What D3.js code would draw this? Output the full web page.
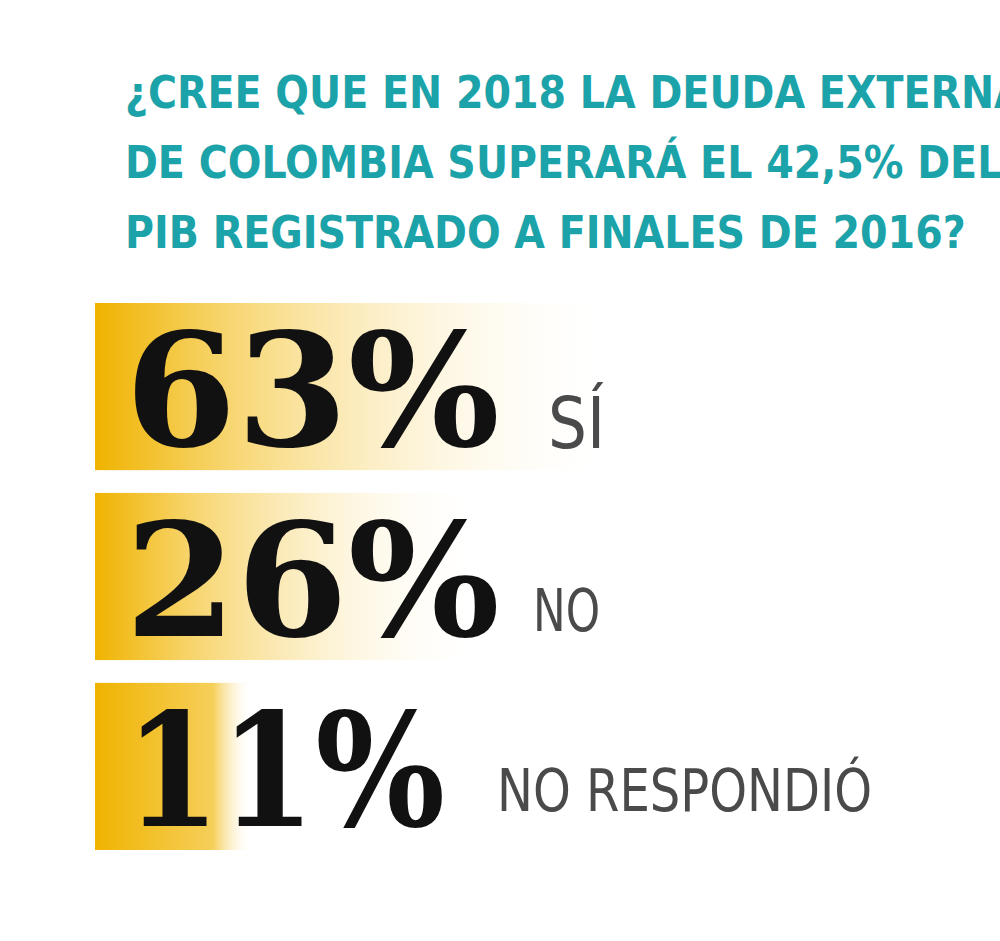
<!DOCTYPE html>
<html><head><meta charset="utf-8">
<script src="https://cdn.jsdelivr.net/npm/d3@7"></script>
<style>body{margin:0;background:#fff}</style>
</head><body>
<div id="root"></div>
<script>
// data
const titleLines = ["¿CREE QUE EN 2018 LA DEUDA EXTERNA", "DE COLOMBIA SUPERARÁ EL 42,5% DEL", "PIB REGISTRADO A FINALES DE 2016?"];
const answers = ["SÍ", "NO", "NO RESPONDIÓ"];
const values = [63, 26, 11];

const width = 1000, height = 941;
const svg = d3.select("#root").append("svg")
  .attr("width", width).attr("height", height)
  .attr("viewBox", [0, 0, width, height]);

// bar length scale (the bars fade out, so only roughly proportional)
const x = d3.scaleLinear().domain([0, 63]).range([60, 505]);
const y = d3.scaleBand().domain(answers).range([303, 850]).paddingInner(0.12);

const defs = svg.append("defs");
values.forEach((v, i) => {
  const g = defs.append("linearGradient").attr("id", "fade" + i);
  g.append("stop").attr("offset", "0%").attr("stop-color", "#efb300");
  g.append("stop").attr("offset", i === 2 ? "75%" : "20%").attr("stop-color", "#f6cf5a");
  g.append("stop").attr("offset", "100%").attr("stop-color", "#fff").attr("stop-opacity", 0);
});

// title
svg.append("g").selectAll("text").data(titleLines).join("text")
  .attr("x", 125).attr("y", (d, i) => 108 + i * 70)
  .attr("fill", "#1ba3a9")
  .attr("font-family", "'Liberation Sans Narrow', 'DejaVu Sans Condensed', sans-serif")
  .attr("font-weight", "bold").attr("font-size", 44)
  .text(d => d);

const rows = svg.append("g").selectAll("g").data(answers).join("g");

rows.append("rect")
  .attr("x", 95).attr("y", d => y(d))
  .attr("width", (d, i) => x(values[i]) + (i === 1 ? 150 : 20))
  .attr("height", y.bandwidth())
  .attr("fill", (d, i) => `url(#fade${i})`);

rows.append("text")
  .attr("x", 125).attr("y", d => y(d) + 143)
  .attr("font-family", "'DejaVu Serif', serif").attr("font-weight", "bold")
  .attr("font-size", 158).attr("fill", "#111")
  .attr("textLength", (d, i) => [375, 375, 320][i]).attr("lengthAdjust", "spacingAndGlyphs")
  .text((d, i) => values[i] + "%");

rows.append("text")
  .attr("x", (d, i) => [548, 533, 497][i])
  .attr("y", (d, i) => y(d) + [145, 138, 128][i])
  .attr("font-family", "'Liberation Sans Narrow', 'DejaVu Sans Condensed', sans-serif")
  .attr("font-size", (d, i) => [72, 58, 58][i]).attr("fill", "#4a4a4a")
  .attr("textLength", (d, i) => [57, 67, 375][i]).attr("lengthAdjust", "spacingAndGlyphs")
  .text(d => d);
</script>
</body></html>
